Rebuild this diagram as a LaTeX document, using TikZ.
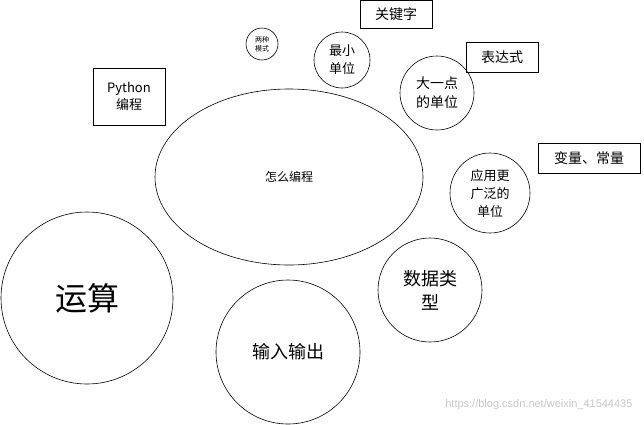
\documentclass[tikz,border=0pt]{standalone}
\usepackage{fontspec}
\usetikzlibrary{shapes.geometric}
\setmainfont{Liberation Sans}
\newfontfamily\cjk{Noto Sans CJK SC}
\begin{document}
\begin{tikzpicture}[x=1pt,y=-1pt,
  bub/.style={draw,circle,line width=0.6pt,align=center,inner sep=0pt,font=\cjk},
  box/.style={draw,rectangle,line width=0.6pt,align=center,font=\cjk,inner sep=0pt}]
\useasboundingbox (0,0) rectangle (644,424);
\node[draw,ellipse,line width=0.6pt,minimum width=268,minimum height=176,font=\cjk\fontsize{12}{14}\selectfont] (main) at (289,177) {怎么编程};
\node[bub,minimum size=172,font=\cjk\fontsize{32}{36}\selectfont] (ys) at (87,298) {运算};
\node[bub,minimum size=144,font=\cjk\fontsize{18}{22}\selectfont] (io) at (288,352) {输入输出};
\node[bub,minimum size=104,font=\cjk\fontsize{18}{24}\selectfont] (dt) at (430,290) {数据类\\型};
\node[bub,minimum size=80,font=\cjk\fontsize{13}{18}\selectfont] (ag) at (490,193) {应用更\\广泛的\\单位};
\node[bub,minimum size=74,font=\cjk\fontsize{14}{19}\selectfont] (dy) at (437,93) {大一点\\的单位};
\node[bub,minimum size=56,font=\cjk\fontsize{13}{18}\selectfont] (zx) at (342,60) {最小\\单位};
\node[bub,minimum size=32,font=\cjk\fontsize{7}{9}\selectfont] (lz) at (262,44) {两种\\模式};
\node[box,minimum width=72,minimum height=57,font=\cjk\fontsize{13}{17}\selectfont] (py) at (129,96.5) {Python\\编程};
\node[box,minimum width=72,minimum height=28,font=\cjk\fontsize{14}{17}\selectfont] (gj) at (396,14) {关键字};
\node[box,minimum width=72,minimum height=30,font=\cjk\fontsize{14}{17}\selectfont] (bd) at (502,57) {表达式};
\node[box,minimum width=102,minimum height=30,font=\cjk\fontsize{14}{17}\selectfont] (bl) at (589,158) {变量、常量};
\node[text=gray!45,font=\fontsize{11}{13}\selectfont,anchor=east] (wm) at (636,405) {https://blog.csdn.net/weixin\_41544435};
\end{tikzpicture}
\end{document}
